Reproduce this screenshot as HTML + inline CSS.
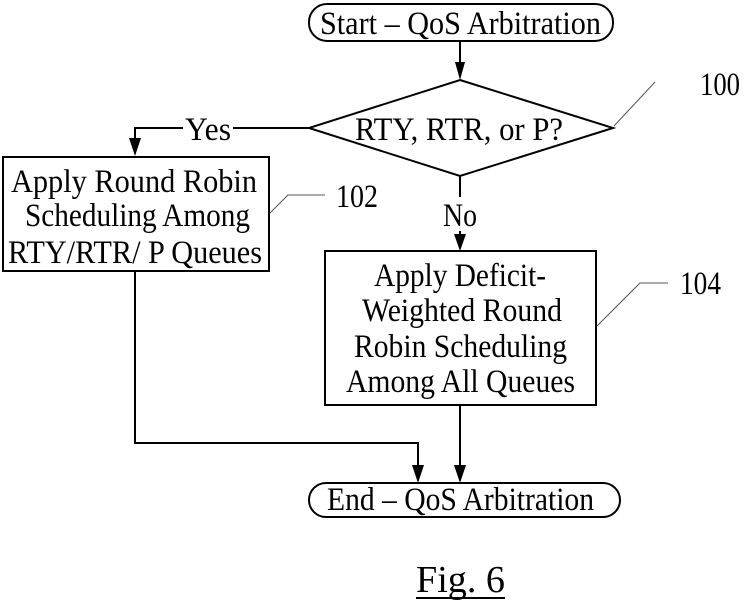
<!DOCTYPE html>
<html><head><style>
html,body{margin:0;padding:0;background:#fff;}
svg{display:block;}
text{font-family:"Liberation Serif",serif;fill:#000;}
</style></head><body>
<svg width="744" height="609" viewBox="0 0 744 609" xmlns="http://www.w3.org/2000/svg">
<g stroke="#000" stroke-width="2" fill="none">
<rect x="309" y="4" width="304" height="37" rx="18" ry="18"/>
<line x1="460" y1="41" x2="460" y2="62"/>
<path d="M455,62 L465,62 L460,80 Z" fill="#000" stroke="none"/>
<polygon points="460,80 613,128 460,176 309,128"/>
<line x1="309" y1="128" x2="233" y2="128"/>
<polyline points="183,128 135,128 135,138"/>
<path d="M129,138 L141,138 L135,156 Z" fill="#000" stroke="none"/>
<rect x="3" y="157" width="266" height="114"/>
<line x1="460" y1="176" x2="460" y2="197"/>
<line x1="460" y1="231" x2="460" y2="234"/>
<path d="M454,234 L466,234 L460,251 Z" fill="#000" stroke="none"/>
<rect x="325" y="251" width="271" height="154"/>
<polyline points="135,271 135,443 418,443 418,465"/>
<path d="M412,465 L424,465 L418,483 Z" fill="#000" stroke="none"/>
<line x1="460" y1="405" x2="460" y2="465"/>
<path d="M454,465 L466,465 L460,483 Z" fill="#000" stroke="none"/>
<rect x="309" y="483" width="311" height="34" rx="17" ry="17"/>
</g>
<g stroke="#555" stroke-width="1" fill="none">
<polyline points="614,126 655,82"/>
<polyline points="270,213 288,195 325,195"/>
<polyline points="597,326 640,283 668,283"/>
</g>
<g font-size="33">
<text x="320" y="34" textLength="281" lengthAdjust="spacingAndGlyphs">Start – QoS Arbitration</text>
<text x="355" y="140" textLength="208" lengthAdjust="spacingAndGlyphs">RTY, RTR, or P?</text>
<text x="185" y="140" textLength="46" lengthAdjust="spacingAndGlyphs">Yes</text>
<text x="443" y="226" textLength="34" lengthAdjust="spacingAndGlyphs">No</text>
<text x="11" y="192" textLength="246" lengthAdjust="spacingAndGlyphs">Apply Round Robin</text>
<text x="25" y="226" textLength="225" lengthAdjust="spacingAndGlyphs">Scheduling Among</text>
<text x="8" y="263" textLength="254" lengthAdjust="spacingAndGlyphs">RTY/RTR/ P Queues</text>
<text x="374" y="286" textLength="172" lengthAdjust="spacingAndGlyphs">Apply Deficit-</text>
<text x="362" y="321" textLength="200" lengthAdjust="spacingAndGlyphs">Weighted Round</text>
<text x="354" y="357" textLength="213" lengthAdjust="spacingAndGlyphs">Robin Scheduling</text>
<text x="346" y="392" textLength="229" lengthAdjust="spacingAndGlyphs">Among All Queues</text>
<text x="327" y="510" textLength="267" lengthAdjust="spacingAndGlyphs">End – QoS Arbitration</text>
<text x="700" y="95" textLength="40" lengthAdjust="spacingAndGlyphs">100</text>
<text x="336" y="207" textLength="42" lengthAdjust="spacingAndGlyphs">102</text>
<text x="680" y="294" textLength="41" lengthAdjust="spacingAndGlyphs">104</text>
</g>
<text x="416" y="592" font-size="38" textLength="89" lengthAdjust="spacingAndGlyphs">Fig. 6</text>
<line x1="416" y1="598" x2="505" y2="598" stroke="#000" stroke-width="2"/>
</svg>
</body></html>
